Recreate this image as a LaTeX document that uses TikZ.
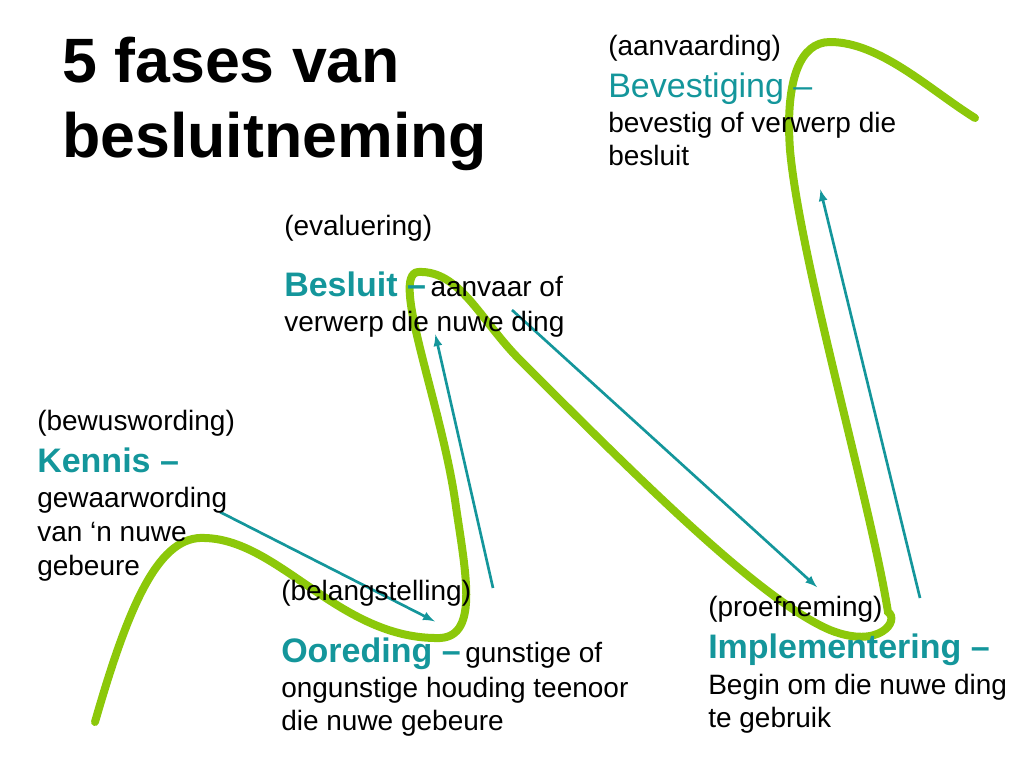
\documentclass[tikz,border=0pt]{standalone}
\usepackage{fontspec}
\setmainfont{Liberation Sans}
\usetikzlibrary{positioning}
\definecolor{lime}{RGB}{140,200,10}
\definecolor{teal}{RGB}{20,150,155}
\tikzset{
	txt/.style={anchor=base west,inner sep=0pt,font=\fontsize{21}{25}\selectfont},
	head/.style={txt,text=teal,font=\fontsize{25.5}{30}\selectfont\bfseries},
	phase arrow/.style={->,>=latex,teal,line width=2pt,shorten >=1pt}
}
\begin{document}
\begin{tikzpicture}[x=0.75pt,y=-0.75pt]
	\useasboundingbox (0,0) rectangle (1024,768);
	% green curve
	\coordinate (c_0) at (95,722);
	\coordinate (c_1) at (205,538);
	\coordinate (c_2) at (462,628);
	\coordinate (c_3) at (418,272);
	\coordinate (c_4) at (888,612);
	\coordinate (c_5) at (830,42);
	\coordinate (c_6) at (975,118);
	\draw[lime,line width=6pt,line cap=round]
	 (c_0) .. controls (130,600) and (160,535) .. (c_1)
	 .. controls (280,540) and (340,640) .. (440,638)
	 .. controls (480,636) and (465,570) .. (455,500)
	 .. controls (440,400) and (390,275) .. (c_3)
	 .. controls (460,270) and (480,320) .. (520,360)
	 .. controls (640,480) and (760,600) .. (830,630)
	 .. controls (880,650) and (900,620) .. (c_4)
	 .. controls (870,500) and (800,260) .. (790,150)
	 .. controls (785,80) and (800,42) .. (c_5)
	 .. controls (880,42) and (930,90) .. (c_6);
	% arrows
	\coordinate (a_0) at (220,512);
	\coordinate (a_1) at (436,622);
	\coordinate (b_0) at (493,588);
	\coordinate (b_1) at (435,333);
	\coordinate (d_0) at (512,310);
	\coordinate (d_1) at (818,588);
	\coordinate (e_0) at (920,598);
	\coordinate (e_1) at (820,188);
	\draw[phase arrow] (a_0) -- (a_1);
	\draw[phase arrow] (b_0) -- (b_1);
	\draw[phase arrow] (d_0) -- (d_1);
	\draw[phase arrow] (e_0) -- (e_1);
	% title
	\node[txt,font=\fontsize{47}{56}\selectfont\bfseries] (title_0) at (62,82) {5 fases van};
	\node[txt,font=\fontsize{47}{56}\selectfont\bfseries] (title_1) at (62,157) {besluitneming};
	% bevestiging
	\node[txt] (bev_0) at (608,55) {(aanvaarding)};
	\node[head,font=\fontsize{25.5}{30}\selectfont] (bev_1) at (608,97) {Bevestiging --};
	\node[txt] (bev_2) at (608,132) {bevestig of verwerp die};
	\node[txt] (bev_3) at (608,165) {besluit};
	% besluit
	\node[txt] (bes_0) at (284,235) {(evaluering)};
	\node[head] (bes_1) at (284,296) {Besluit --};
	\node[txt] (bes_2) [right=3pt of bes_1.base east,anchor=base west] {aanvaar of};
	\node[txt] (bes_3) at (284,331) {verwerp die nuwe ding};
	% kennis
	\node[txt] (ken_0) at (37,430) {(bewuswording)};
	\node[head] (ken_1) at (37,472) {Kennis --};
	\node[txt] (ken_2) at (37,507) {gewaarwording};
	\node[txt] (ken_3) at (37,541) {van ‘n nuwe};
	\node[txt] (ken_4) at (37,575) {gebeure};
	% ooreding
	\node[txt] (oor_0) at (281,600) {(belangstelling)};
	\node[head] (oor_1) at (281,662) {Ooreding --};
	\node[txt] (oor_2) [right=3pt of oor_1.base east,anchor=base west] {gunstige of};
	\node[txt] (oor_3) at (281,697) {ongunstige houding teenoor};
	\node[txt] (oor_4) at (281,730) {die nuwe gebeure};
	% implementering
	\node[txt] (imp_0) at (708,616) {(proefneming)};
	\node[head] (imp_1) at (708,658) {Implementering --};
	\node[txt] (imp_2) at (708,694) {Begin om die nuwe ding};
	\node[txt] (imp_3) at (708,727) {te gebruik};
\end{tikzpicture}
\end{document}
